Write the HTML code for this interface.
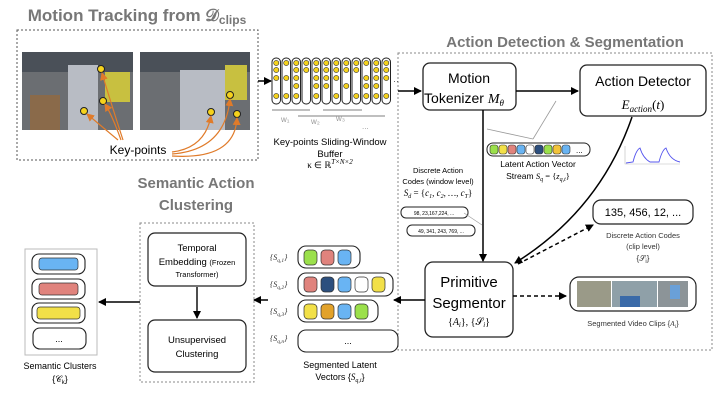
<!DOCTYPE html>
<html><head><meta charset="utf-8"><style>
body{margin:0;background:#fff}
svg{display:block;font-family:"Liberation Sans",sans-serif}
.t{font-family:"Liberation Serif",serif;font-style:italic}
</style></head><body>
<svg width="725" height="414" viewBox="0 0 725 414" xmlns="http://www.w3.org/2000/svg">
<defs>
<marker id="ah" markerWidth="8" markerHeight="8" refX="7" refY="4" orient="auto" markerUnits="userSpaceOnUse"><path d="M0,0L8,4L0,8z" fill="#000"/></marker>
<marker id="ao" markerWidth="8" markerHeight="8" refX="7" refY="4" orient="auto" markerUnits="userSpaceOnUse"><path d="M0,0L8,4L0,8z" fill="#e07b2a"/></marker>
</defs>
<text x="137" y="21" text-anchor="middle" font-size="17" font-weight="bold" fill="#777">Motion Tracking from 𝒟<tspan font-size="12" dy="3">clips</tspan></text>
<rect x="17" y="30" width="241" height="130" fill="none" stroke="#555" stroke-dasharray="2,2"/>
<rect x="22" y="52" width="111" height="78" fill="#6b6e72"/>
<rect x="22" y="52" width="111" height="20" fill="#4a5058"/>
<rect x="30" y="95" width="30" height="35" fill="#8a6a4a"/>
<rect x="68" y="65" width="30" height="65" fill="#b8bcc4"/>
<rect x="105" y="72" width="25" height="30" fill="#c8c040"/>
<rect x="140" y="52" width="110" height="78" fill="#6b6e72"/>
<rect x="140" y="52" width="110" height="20" fill="#4a5058"/>
<rect x="180" y="70" width="45" height="60" fill="#b8bcc4"/>
<rect x="225" y="65" width="22" height="35" fill="#c8c040"/>
<g fill="#f5d21c" stroke="#222" stroke-width="1">
<circle cx="101" cy="69" r="3.5"/><circle cx="103" cy="101" r="3.5"/><circle cx="84" cy="111" r="3.5"/>
<circle cx="230" cy="95" r="3.5"/><circle cx="211" cy="112" r="3.5"/><circle cx="237" cy="114" r="3.5"/>
</g>
<g fill="none" stroke="#e07b2a" stroke-width="1.2">
<path d="M123,140 Q110,100 102,73" marker-end="url(#ao)"/>
<path d="M121,140 Q112,115 105,104" marker-end="url(#ao)"/>
<path d="M118,140 Q100,125 87,114" marker-end="url(#ao)"/>
<path d="M172,152 Q205,148 211,116" marker-end="url(#ao)"/>
<path d="M172,154 Q225,150 230,99" marker-end="url(#ao)"/>
<path d="M172,156 Q235,160 237,118" marker-end="url(#ao)"/>
</g>
<text x="138" y="154" text-anchor="middle" font-size="12">Key-points</text>
<line x1="258" y1="81" x2="271" y2="81" stroke="#000" stroke-width="1.5" marker-end="url(#ah)"/>
<g fill="#fff" stroke="#222" stroke-width="1">
<rect x="272" y="58" width="8.5" height="46" rx="4"/><rect x="282" y="58" width="8.5" height="46" rx="4"/><rect x="292" y="58" width="8.5" height="46" rx="4"/><rect x="302" y="58" width="8.5" height="46" rx="4"/>
<rect x="312" y="58" width="8.5" height="46" rx="4"/><rect x="322" y="58" width="8.5" height="46" rx="4"/><rect x="332" y="58" width="8.5" height="46" rx="4"/><rect x="342" y="58" width="8.5" height="46" rx="4"/>
<rect x="352" y="58" width="8.5" height="46" rx="4"/><rect x="362" y="58" width="8.5" height="46" rx="4"/><rect x="372" y="58" width="8.5" height="46" rx="4"/><rect x="382" y="58" width="8.5" height="46" rx="4"/>
</g>
<g fill="#f5d21c" stroke="#333" stroke-width="0.6">
<circle cx="276.25" cy="63" r="2.6"/><circle cx="276.25" cy="70" r="2.6"/><circle cx="276.25" cy="78" r="2.6"/><circle cx="276.25" cy="96" r="2.6"/>
<circle cx="286.25" cy="63" r="2.6"/><circle cx="286.25" cy="78" r="2.6"/><circle cx="286.25" cy="96" r="2.6"/>
<circle cx="296.25" cy="63" r="2.6"/><circle cx="296.25" cy="70" r="2.6"/><circle cx="296.25" cy="78" r="2.6"/><circle cx="296.25" cy="86" r="2.6"/><circle cx="296.25" cy="96" r="2.6"/>
<circle cx="306.25" cy="63" r="2.6"/><circle cx="306.25" cy="70" r="2.6"/>
<circle cx="316.25" cy="63" r="2.6"/><circle cx="316.25" cy="70" r="2.6"/><circle cx="316.25" cy="78" r="2.6"/><circle cx="316.25" cy="86" r="2.6"/><circle cx="316.25" cy="96" r="2.6"/>
<circle cx="326.25" cy="63" r="2.6"/><circle cx="326.25" cy="70" r="2.6"/><circle cx="326.25" cy="78" r="2.6"/><circle cx="326.25" cy="86" r="2.6"/>
<circle cx="336.25" cy="63" r="2.6"/><circle cx="336.25" cy="70" r="2.6"/><circle cx="336.25" cy="78" r="2.6"/><circle cx="336.25" cy="96" r="2.6"/>
<circle cx="346.25" cy="63" r="2.6"/><circle cx="346.25" cy="70" r="2.6"/><circle cx="346.25" cy="86" r="2.6"/>
<circle cx="356.25" cy="63" r="2.6"/><circle cx="356.25" cy="70" r="2.6"/><circle cx="356.25" cy="96" r="2.6"/>
<circle cx="366.25" cy="63" r="2.6"/><circle cx="366.25" cy="78" r="2.6"/><circle cx="366.25" cy="86" r="2.6"/><circle cx="366.25" cy="96" r="2.6"/>
<circle cx="376.25" cy="63" r="2.6"/><circle cx="376.25" cy="70" r="2.6"/><circle cx="376.25" cy="78" r="2.6"/><circle cx="376.25" cy="86" r="2.6"/><circle cx="376.25" cy="96" r="2.6"/>
<circle cx="386.25" cy="63" r="2.6"/><circle cx="386.25" cy="70" r="2.6"/><circle cx="386.25" cy="78" r="2.6"/><circle cx="386.25" cy="96" r="2.6"/>
</g>
<g stroke="#999" stroke-width="1.2">
<line x1="272" y1="110" x2="310" y2="110"/><line x1="298" y1="116" x2="385" y2="116"/><line x1="323" y1="110" x2="362" y2="110"/>
</g>
<g fill="#999" font-size="8"><text x="281" y="122">w₁</text><text x="311" y="124">w₂</text><text x="336" y="121">w₃</text><text x="362" y="129">...</text></g>
<text x="330" y="145" text-anchor="middle" font-size="9.5">Key-points Sliding-Window</text>
<text x="330" y="157" text-anchor="middle" font-size="9.5">Buffer</text>
<text x="330" y="168" text-anchor="middle" font-size="9" class="t" style="font-style:normal">κ ∈ ℝ<tspan font-size="7" dy="-4" font-style="italic">T×N×2</tspan></text>
<text x="565" y="47" text-anchor="middle" font-size="15" font-weight="bold" fill="#777">Action Detection &amp; Segmentation</text>
<rect x="398" y="53" width="314" height="297" fill="none" stroke="#888" stroke-dasharray="2,2"/>
<text x="393" y="84" font-size="9" fill="#555">··</text>
<line x1="398" y1="91" x2="421" y2="91" stroke="#000" stroke-width="1.5" marker-end="url(#ah)"/>
<rect x="423" y="63" width="93" height="47" rx="7" fill="#fff" stroke="#222" stroke-width="1.3"/>
<text x="469" y="83" text-anchor="middle" font-size="14">Motion</text>
<text x="464" y="103" text-anchor="middle" font-size="14">Tokenizer <tspan class="t" font-size="14">M<tspan font-size="9" dy="3">θ</tspan></tspan></text>
<line x1="516" y1="91" x2="578" y2="91" stroke="#000" stroke-width="1.5" marker-end="url(#ah)"/>
<rect x="580" y="65" width="126" height="51" rx="7" fill="#fff" stroke="#222" stroke-width="1.3"/>
<text x="643" y="86" text-anchor="middle" font-size="14">Action Detector</text>
<text x="643" y="109" text-anchor="middle" font-size="13" class="t">E<tspan font-size="9" dy="3">action</tspan><tspan dy="-3" font-style="normal">(</tspan>t<tspan font-style="normal">)</tspan></text>
<g stroke="#999" stroke-width="0.8"><line x1="487" y1="129" x2="533" y2="139"/><line x1="556" y1="101" x2="533" y2="139"/></g>
<rect x="487" y="143" width="103" height="13" rx="6" fill="#fff" stroke="#222"/>
<g stroke="#333" stroke-width="0.6">
<rect x="490" y="145" width="8" height="9" rx="2.5" fill="#9be04b"/><rect x="499" y="145" width="8" height="9" rx="2.5" fill="#f2e048"/>
<rect x="508" y="145" width="8" height="9" rx="2.5" fill="#e0837d"/><rect x="517" y="145" width="8" height="9" rx="2.5" fill="#69b4f3"/>
<rect x="526" y="145" width="8" height="9" rx="2.5" fill="#fff"/><rect x="535" y="145" width="8" height="9" rx="2.5" fill="#2c4f7e"/>
<rect x="544" y="145" width="8" height="9" rx="2.5" fill="#9be04b"/><rect x="553" y="145" width="8" height="9" rx="2.5" fill="#f2c33a"/>
<rect x="562" y="145" width="8" height="9" rx="2.5" fill="#69b4f3"/>
</g>
<text x="576" y="153" font-size="8">...</text>
<text x="538" y="167" text-anchor="middle" font-size="8.5">Latent Action Vector</text>
<text x="538" y="179" text-anchor="middle" font-size="8.5">Stream <tspan class="t">S<tspan font-size="6" dy="2">q</tspan><tspan dy="-2" font-style="normal"> = {</tspan>z<tspan font-size="6" dy="2">q,t</tspan><tspan dy="-2" font-style="normal">}</tspan></tspan></text>
<path d="M625,146 L625,164 L680,164" fill="none" stroke="#bbb" stroke-width="0.6"/>
<path d="M626,163 L633,162 Q636,150 640,148 Q643,158 650,162 L659,162 Q662,150 666,148 Q670,160 680,162" fill="none" stroke="#5555ee" stroke-width="0.9"/>
<line x1="483" y1="110" x2="483" y2="261" stroke="#000" stroke-width="1.5" marker-end="url(#ah)"/>
<text x="438" y="173" text-anchor="middle" font-size="7.5">Discrete Action</text>
<text x="438" y="184" text-anchor="middle" font-size="7.5">Codes (window level)</text>
<text x="438" y="196" text-anchor="middle" font-size="9" class="t">S<tspan font-size="6" dy="2">d</tspan><tspan dy="-2" font-style="normal"> = {</tspan>c<tspan font-size="6" dy="2">1</tspan><tspan dy="-2">, c</tspan><tspan font-size="6" dy="2">2</tspan><tspan dy="-2">, …, c</tspan><tspan font-size="6" dy="2">T</tspan><tspan dy="-2" font-style="normal">}</tspan></text>
<rect x="401" y="207" width="67" height="11" rx="5" fill="#fff" stroke="#222"/>
<text x="434" y="215" text-anchor="middle" font-size="5">98, 23,167,224, ...</text>
<rect x="407" y="225" width="68" height="11" rx="5" fill="#fff" stroke="#222"/>
<text x="441" y="233" text-anchor="middle" font-size="5">49, 341, 243, 769, ...</text>
<line x1="464" y1="213" x2="482" y2="225" stroke="#999" stroke-width="0.6"/>
<rect x="593" y="200" width="100" height="24" rx="8" fill="#fff" stroke="#222" stroke-width="1.2"/>
<text x="643" y="216" text-anchor="middle" font-size="11">135, 456, 12, ...</text>
<text x="643" y="238" text-anchor="middle" font-size="7.5" fill="#333">Discrete Action Codes</text>
<text x="643" y="249" text-anchor="middle" font-size="7.5" fill="#333">(clip level)</text>
<text x="643" y="261" text-anchor="middle" font-size="8" fill="#333">{𝒮<tspan font-size="6" dy="2">i</tspan><tspan dy="-2">}</tspan></text>
<path d="M632,117 Q600,210 515,263" fill="none" stroke="#000" stroke-width="1.5" marker-end="url(#ah)"/>
<line x1="518" y1="264" x2="593" y2="225" stroke="#000" stroke-width="1.5" stroke-dasharray="4,3" marker-end="url(#ah)"/>
<rect x="425" y="262" width="88" height="75" rx="8" fill="#fff" stroke="#222" stroke-width="1.3"/>
<text x="469" y="287" text-anchor="middle" font-size="15">Primitive</text>
<text x="469" y="308" text-anchor="middle" font-size="15">Segmentor</text>
<text x="469" y="325" text-anchor="middle" font-size="10" class="t"><tspan font-style="normal">{</tspan>A<tspan font-size="7" dy="2">i</tspan><tspan dy="-2" font-style="normal">}, {𝒮</tspan><tspan font-size="7" dy="2">i</tspan><tspan dy="-2" font-style="normal">}</tspan></text>
<line x1="513" y1="296" x2="566" y2="296" stroke="#000" stroke-width="1.5" stroke-dasharray="4,3" marker-end="url(#ah)"/>
<rect x="570" y="277" width="126" height="34" rx="9" fill="#fff" stroke="#222" stroke-width="1.2"/>
<rect x="577" y="281" width="34" height="26" fill="#9a9a88"/><rect x="612" y="281" width="45" height="26" fill="#8fa0a8"/><rect x="658" y="281" width="30" height="26" fill="#8c9498"/>
<rect x="620" y="296" width="20" height="11" fill="#3a6aa8"/><rect x="670" y="285" width="10" height="14" fill="#6aa0d8"/>
<text x="633" y="326" text-anchor="middle" font-size="7.5" fill="#333">Segmented Video Clips {<tspan class="t">A<tspan font-size="5.5" dy="2">i</tspan></tspan><tspan dy="-2">}</tspan></text>
<line x1="425" y1="300" x2="394" y2="300" stroke="#000" stroke-width="1.5" marker-end="url(#ah)"/>
<g font-size="8" class="t" fill="#333">
<text x="270" y="260">{S<tspan font-size="5.5" dy="2">q,1</tspan><tspan dy="-2">}</tspan></text>
<text x="270" y="287">{S<tspan font-size="5.5" dy="2">q,2</tspan><tspan dy="-2">}</tspan></text>
<text x="270" y="314">{S<tspan font-size="5.5" dy="2">q,3</tspan><tspan dy="-2">}</tspan></text>
<text x="270" y="341">{S<tspan font-size="5.5" dy="2">q,n</tspan><tspan dy="-2">}</tspan></text>
</g>
<g stroke="#222" stroke-width="1.1" fill="#fff">
<rect x="298" y="246" width="62" height="22" rx="8"/><rect x="298" y="273" width="95" height="23" rx="8"/>
<rect x="298" y="300" width="80" height="22" rx="8"/><rect x="298" y="330" width="100" height="22" rx="8"/>
</g>
<g stroke="#333" stroke-width="0.7">
<rect x="304" y="250" width="13" height="15" rx="4" fill="#9be04b"/><rect x="321" y="250" width="13" height="15" rx="4" fill="#e0837d"/><rect x="338" y="250" width="13" height="15" rx="4" fill="#69b4f3"/>
<rect x="304" y="277" width="13" height="15" rx="4" fill="#e0837d"/><rect x="321" y="277" width="13" height="15" rx="4" fill="#2c4f7e"/><rect x="338" y="277" width="13" height="15" rx="4" fill="#69b4f3"/><rect x="355" y="277" width="13" height="15" rx="4" fill="#fff"/><rect x="372" y="277" width="13" height="15" rx="4" fill="#f2e048"/>
<rect x="304" y="304" width="13" height="15" rx="4" fill="#f2e048"/><rect x="321" y="304" width="13" height="15" rx="4" fill="#e2a22a"/><rect x="338" y="304" width="13" height="15" rx="4" fill="#69b4f3"/><rect x="355" y="304" width="13" height="15" rx="4" fill="#9be04b"/>
</g>
<text x="348" y="344" text-anchor="middle" font-size="9">...</text>
<text x="340" y="368" text-anchor="middle" font-size="9">Segmented Latent</text>
<text x="340" y="380" text-anchor="middle" font-size="9">Vectors {<tspan class="t">S<tspan font-size="6" dy="2">q,i</tspan></tspan><tspan dy="-2">}</tspan></text>
<line x1="268" y1="300" x2="254" y2="300" stroke="#000" stroke-width="1.5" marker-end="url(#ah)"/>
<text x="196" y="188" text-anchor="middle" font-size="15" font-weight="bold" fill="#777">Semantic Action</text>
<text x="196" y="210" text-anchor="middle" font-size="15" font-weight="bold" fill="#777">Clustering</text>
<rect x="140" y="223" width="114" height="159" fill="none" stroke="#888" stroke-dasharray="2,2"/>
<rect x="148" y="233" width="98" height="53" rx="7" fill="#fff" stroke="#222" stroke-width="1.2"/>
<text x="197" y="251" text-anchor="middle" font-size="9.5">Temporal</text>
<text x="197" y="265" text-anchor="middle" font-size="9.5">Embedding <tspan font-size="7.5">(Frozen</tspan></text>
<text x="197" y="277" text-anchor="middle" font-size="7.5">Transformer)</text>
<line x1="197" y1="287" x2="197" y2="318" stroke="#000" stroke-width="1.4" marker-end="url(#ah)"/>
<rect x="148" y="320" width="98" height="52" rx="7" fill="#fff" stroke="#222" stroke-width="1.2"/>
<text x="197" y="343" text-anchor="middle" font-size="9.5">Unsupervised</text>
<text x="197" y="357" text-anchor="middle" font-size="9.5">Clustering</text>
<line x1="140" y1="302" x2="99" y2="302" stroke="#000" stroke-width="1.5" marker-end="url(#ah)"/>
<rect x="25" y="249" width="72" height="106" fill="#fff" stroke="#bbb"/>
<g stroke="#222" stroke-width="1.1" fill="#fff">
<rect x="32" y="254" width="53" height="20" rx="7"/><rect x="32" y="279" width="53" height="20" rx="7"/>
<rect x="32" y="303" width="53" height="20" rx="7"/><rect x="33" y="328" width="53" height="21" rx="7"/>
</g>
<g stroke="#333" stroke-width="0.7">
<rect x="39" y="258" width="39" height="12" rx="3" fill="#69b4f3"/><rect x="39" y="283" width="39" height="12" rx="3" fill="#e0837d"/><rect x="37" y="307" width="43" height="12" rx="3" fill="#f2e048"/>
</g>
<text x="59" y="342" text-anchor="middle" font-size="9">...</text>
<text x="60" y="369" text-anchor="middle" font-size="9">Semantic Clusters</text>
<text x="60" y="382" text-anchor="middle" font-size="9">{𝒞<tspan font-size="6" dy="2">k</tspan><tspan dy="-2">}</tspan></text>
</svg>
</body></html>
